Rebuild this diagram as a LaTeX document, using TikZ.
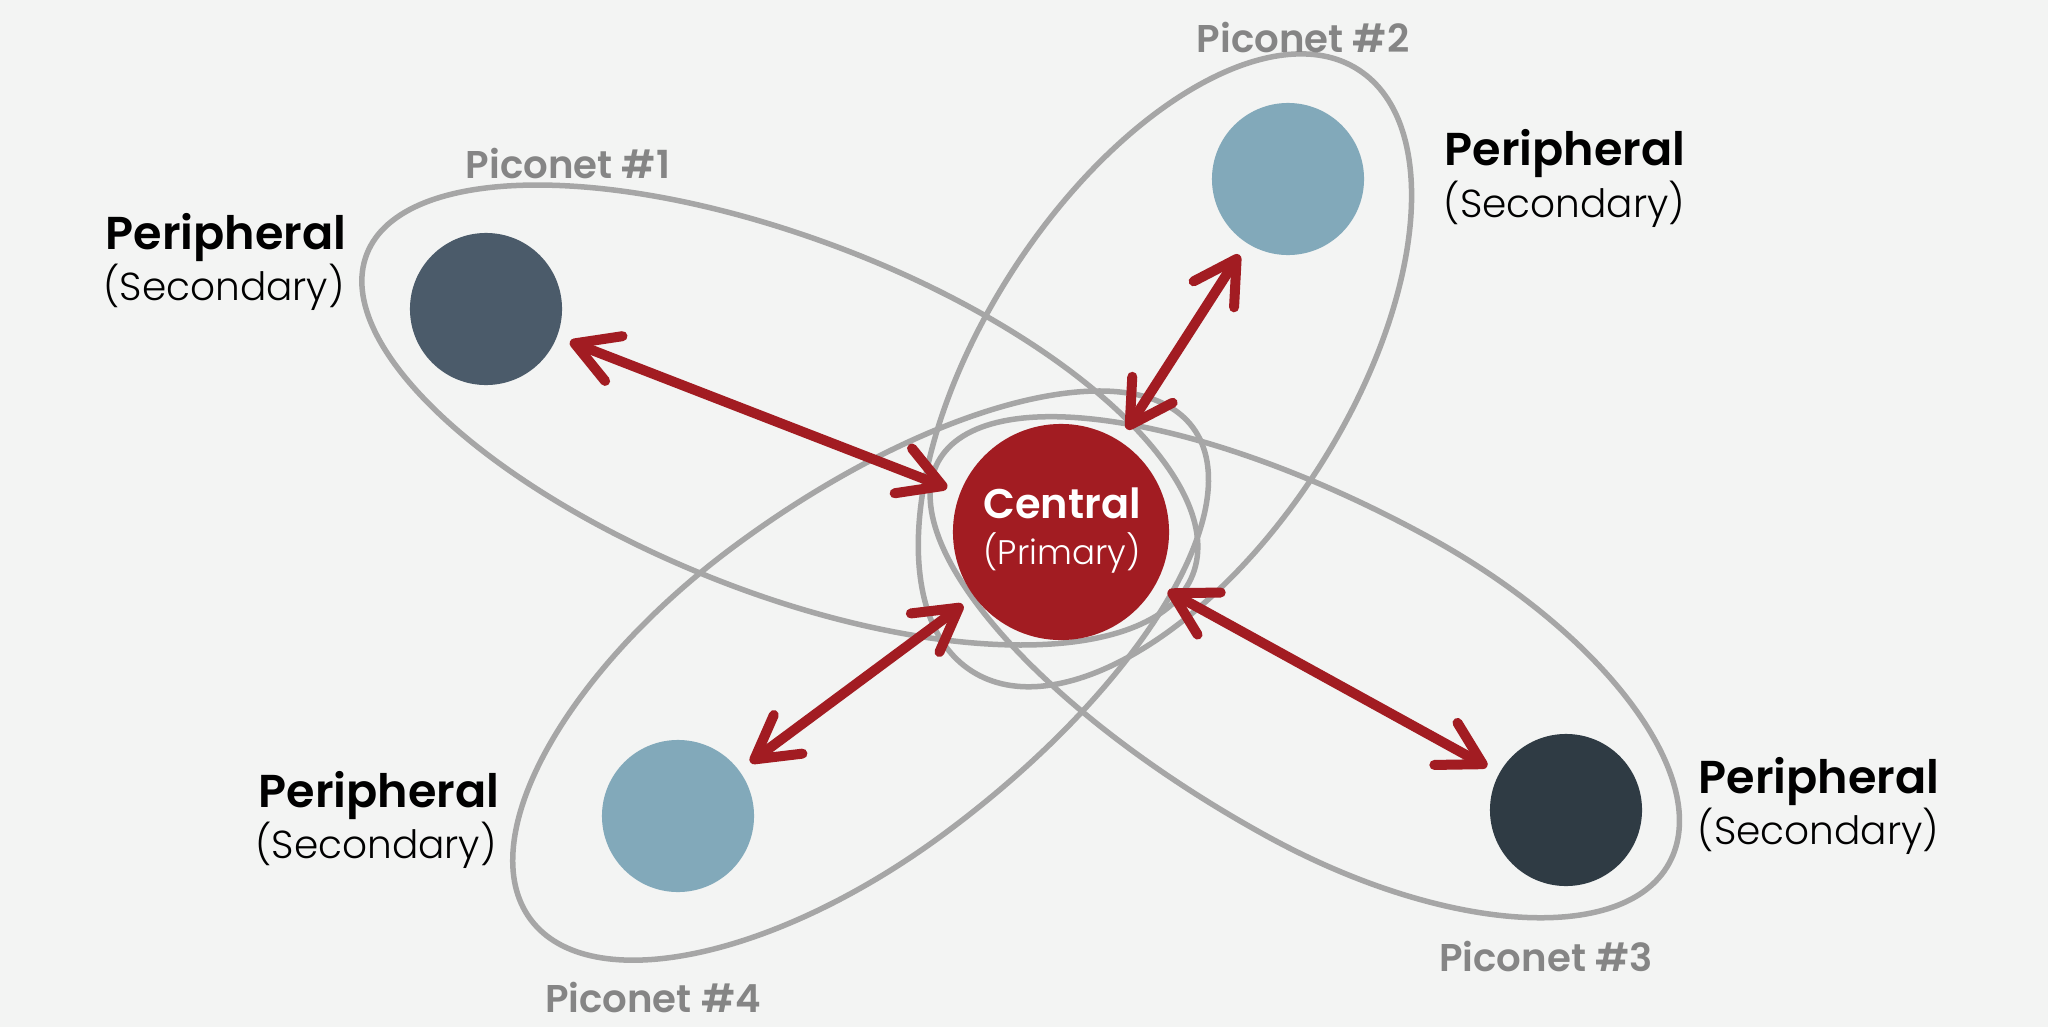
\documentclass[tikz,border=0pt]{standalone}
\usepackage{fontspec}
\setmainfont{Poppins}
\IfFontExistsTF{Poppins Light}{\newfontfamily\plight{Poppins Light}}{\newfontfamily\plight{Poppins}}
\IfFontExistsTF{Poppins SemiBold}{\newfontfamily\psemi{Poppins SemiBold}}{\newcommand\psemi{\bfseries}}
\usetikzlibrary{arrows.meta}
\definecolor{bg}{HTML}{F3F4F3}
\definecolor{cred}{HTML}{A21C22}
\definecolor{pslate}{HTML}{4B5B6A}
\definecolor{pblue}{HTML}{82A9BA}
\definecolor{pdark}{HTML}{2F3B44}
\definecolor{ringc}{HTML}{A6A6A6}
\definecolor{pgrey}{HTML}{858585}
\tikzset{
  ringline/.style={draw=ringc, line width=0.055cm},
  central/.style={circle, fill=cred, minimum size=2.16cm, inner sep=0pt, outer sep=0pt},
  periph/.style={circle, fill=#1, minimum size=1.52cm, inner sep=0pt, outer sep=0pt},
  link/.style={draw=cred, line width=0.1cm, line cap=round,
    {Straight Barb[length=4.2mm, width=4.8mm, round]}-{Straight Barb[length=4.2mm, width=4.8mm, round]},
    shorten <=0.14cm, shorten >=0.14cm},
  perlabel/.style={font=\psemi\fontsize{13.1pt}{15pt}\selectfont, text=black, inner sep=0pt},
  seclabel/.style={font=\plight\fontsize{11.1pt}{13pt}\selectfont, text=black, inner sep=0pt},
  pnlabel/.style={font=\psemi\fontsize{11pt}{13pt}\selectfont, text=pgrey, inner sep=0pt},
  cenlabel/.style={font=\psemi\fontsize{11.8pt}{14pt}\selectfont, text=white, inner sep=0pt},
  primlabel/.style={font=\plight\fontsize{9.7pt}{12pt}\selectfont, text=white, inner sep=0pt}
}
% #1,#2 peripheral position; #3 angle; #4 widest point; #5 front radius; #6 back radius; #7 half width; #8 offset
\newcommand{\eggshape}[8]{%
  \begin{scope}[shift={(#1,#2)}, rotate=#3]
    \draw[ringline] (#4,#8-#7) arc[start angle=-90, end angle=90, x radius=#5, y radius=#7]
      arc[start angle=90, end angle=270, x radius=#6, y radius=#7] -- cycle;
  \end{scope}}
\begin{document}
\begin{tikzpicture}[x=0.01cm, y=-0.01cm]
\useasboundingbox (0,0) rectangle (2048,1027);
\fill[bg] (0,0) rectangle (2048,1027);

% piconet outlines
\eggshape{486}{309}{-21.2}{318}{437}{449}{177}{-8}
\eggshape{1288}{179}{-122.75}{227.5}{357.5}{357.5}{182}{0}
\eggshape{1566}{810}{151.2}{250}{468}{366}{170}{3}
\eggshape{678}{816}{36.6}{205}{440}{385}{178}{-5}

% devices
\node[central] (c) at (1061,532) {};
\node[periph=pslate] (p1) at (486,309) {};
\node[periph=pblue] (p2) at (1288,179) {};
\node[periph=pdark] (p3) at (1566,810) {};
\node[periph=pblue] (p4) at (678,816) {};

% links
\draw[link] (p1) -- (c);
\draw[link] (p2) -- (c);
\draw[link] (p3) -- (c);
\draw[link] (p4) -- (c);

% central text
\node[cenlabel, anchor=base] (ct) at (1062,518) {Central};
\node[primlabel, anchor=base] (cp) at (1062,564) {(Primary)};

% peripheral labels
\node[perlabel, anchor=base] (l1a) at (226,249) {Peripheral};
\node[seclabel, anchor=base] (l1b) at (224,300) {(Secondary)};
\node[perlabel, anchor=base west] (l2a) at (1444,165) {Peripheral};
\node[seclabel, anchor=base west] (l2b) at (1443,217) {(Secondary)};
\node[perlabel, anchor=base west] (l3a) at (1698,793) {Peripheral};
\node[seclabel, anchor=base west] (l3b) at (1697,844) {(Secondary)};
\node[perlabel, anchor=base] (l4a) at (379,807) {Peripheral};
\node[seclabel, anchor=base] (l4b) at (376,858) {(Secondary)};

% piconet labels
\node[pnlabel, anchor=base] (n1) at (568,178) {Piconet \#1};
\node[pnlabel, anchor=base] (n2) at (1303,52) {Piconet \#2};
\node[pnlabel, anchor=base] (n3) at (1546,971) {Piconet \#3};
\node[pnlabel, anchor=base] (n4) at (653,1012) {Piconet \#4};
\end{tikzpicture}
\end{document}
